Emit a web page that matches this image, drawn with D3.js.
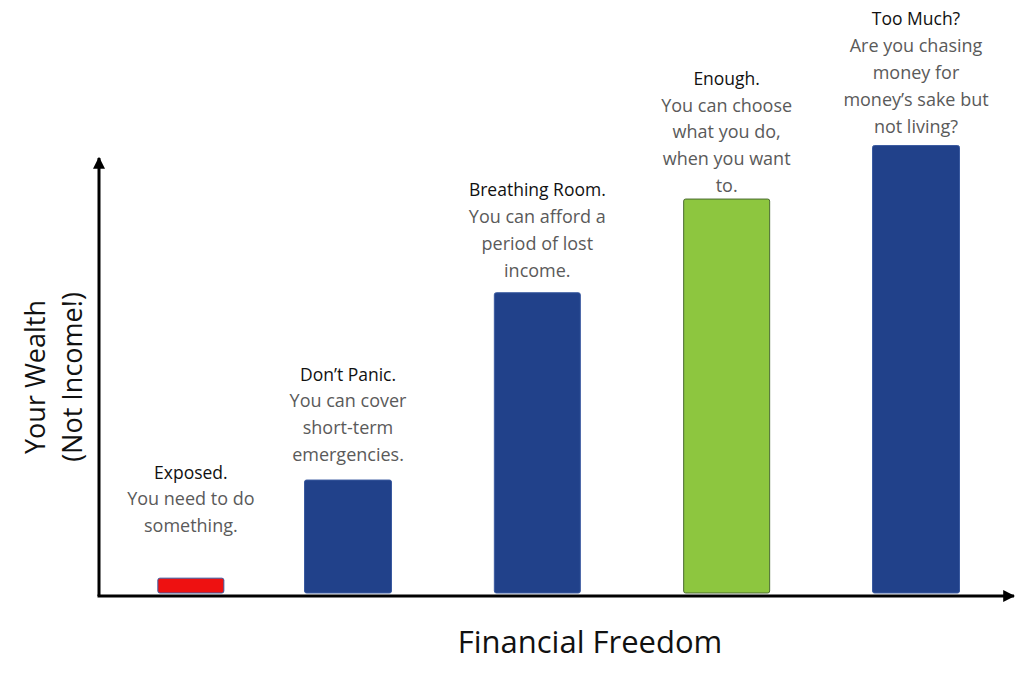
<!DOCTYPE html>
<html><head><meta charset="utf-8">
<script src="https://cdn.jsdelivr.net/npm/d3@7/dist/d3.min.js"></script>
<style>body{margin:0;background:#fff}svg{display:block}text{font-family:"Open Sans",sans-serif}</style>
</head><body><svg id="c" width="1024" height="687"></svg>
<script>
// ---- data ----
const categories = ["Exposed.", "Don\u2019t Panic.", "Breathing Room.", "Enough.", "Too Much?"];
const freedomLevel = [1.17, 2, 3, 4, 5];
const wealth = [4, 26, 68, 89, 101];
const descriptions = [
  ["You need to do", "something."],
  ["You can cover", "short-term", "emergencies."],
  ["You can afford a", "period of lost", "income."],
  ["You can choose", "what you do,", "when you want", "to."],
  ["Are you chasing", "money for", "money\u2019s sake but", "not living?"]
];
const yTitle = ["Your Wealth", "(Not Income!)"];
const xTitle = "Financial Freedom";

// ---- style / layout ----
const colors = ["#ee1111", "#21418a", "#21418a", "#8dc63f", "#21418a"];
const barW = [66, 87, 86, 86, 87];
const labelGap = [52, 25, 22, 13, 19];
const ox = 99, oy = 596;

const svg = d3.select("#c");
const x = d3.scaleLinear().domain([2, 5]).range([348, 916]);
const y = d3.scaleLinear().domain([0, 100]).range([oy, 150]);

// bars
svg.selectAll("rect.bar").data(wealth).join("rect")
  .attr("class", "bar")
  .attr("x", (d, i) => x(freedomLevel[i]) - barW[i] / 2)
  .attr("y", d => y(d))
  .attr("width", (d, i) => barW[i])
  .attr("height", d => oy - 3 - y(d))
  .attr("fill", (d, i) => colors[i])
  .attr("stroke", (d, i) => i === 3 ? "#4a6a30" : "#3a5aa0")
  .attr("stroke-width", 1)
  .attr("rx", 2);

// axes
const defs = svg.append("defs");
defs.append("marker").attr("id", "arr").attr("viewBox", "0 0 10 10")
  .attr("refX", 9).attr("refY", 5).attr("markerWidth", 4).attr("markerHeight", 4)
  .attr("orient", "auto")
  .append("path").attr("d", "M0,0L10,5L0,10z").attr("fill", "#000");
svg.append("line").attr("x1", ox).attr("y1", oy).attr("x2", ox).attr("y2", 158)
  .attr("stroke", "#000").attr("stroke-width", 3).attr("marker-end", "url(#arr)");
svg.append("line").attr("x1", ox - 1.5).attr("y1", oy).attr("x2", 1014).attr("y2", oy)
  .attr("stroke", "#000").attr("stroke-width", 3).attr("marker-end", "url(#arr)");

// labels
const lh = 26.8;
categories.forEach((c, i) => {
  const cx = x(freedomLevel[i]);
  const lines = descriptions[i];
  const lastY = y(wealth[i]) - labelGap[i];
  const firstY = lastY - lh * lines.length;
  const g = svg.append("g").attr("text-anchor", "middle");
  g.append("text").attr("x", cx).attr("y", firstY + 6).attr("font-size", 17.5)
    .attr("font-weight", 400).attr("fill", "#111").text(c);
  lines.forEach((l, j) => {
    g.append("text").attr("x", cx).attr("y", firstY + lh * (j + 1) + 6)
      .attr("font-size", 18).attr("fill", "#5a5a5a").text(l);
  });
});

// axis titles
yTitle.forEach((t, i) => {
  svg.append("text").attr("transform", `translate(${45 + i * 37},377) rotate(-90)`)
    .attr("text-anchor", "middle").attr("font-size", 27).attr("fill", "#111").text(t);
});
svg.append("text").attr("x", 590).attr("y", 653).attr("text-anchor", "middle")
  .attr("font-size", 31).attr("fill", "#111").text(xTitle);
</script></body></html>
